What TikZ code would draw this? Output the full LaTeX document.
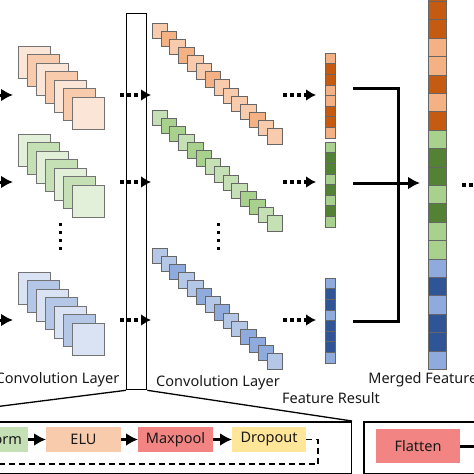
\documentclass[tikz,border=0pt]{standalone}
\usepackage{fontspec}
\setmainfont{Noto Sans}
\usetikzlibrary{positioning,arrows.meta}

\definecolor{orgA}{HTML}{FBE5D6}
\definecolor{orgB}{HTML}{F8CBAD}
\definecolor{orgC}{HTML}{F4B183}
\definecolor{orgD}{HTML}{C55A11}
\definecolor{grnA}{HTML}{E2F0D9}
\definecolor{grnB}{HTML}{C5E0B4}
\definecolor{grnC}{HTML}{A9D18E}
\definecolor{grnD}{HTML}{548235}
\definecolor{bluA}{HTML}{DAE3F3}
\definecolor{bluB}{HTML}{B4C7E7}
\definecolor{bluC}{HTML}{8FAADC}
\definecolor{bluD}{HTML}{2F5597}
\definecolor{poolred}{HTML}{F28583}
\definecolor{dropyel}{HTML}{FFE699}

\tikzset{
	bigsq/.style={draw=black!55, line width=0.6pt, minimum size=32, inner sep=0pt, outer sep=0pt, anchor=north west},
	smallsq/.style={draw=black!60, line width=0.6pt, minimum size=15.5, inner sep=0pt, outer sep=0pt, anchor=north west},
	cell/.style={draw=black!60, line width=0.5pt, inner sep=0pt, outer sep=0pt, anchor=north west},
	layer/.style={minimum height=25, inner sep=0pt, outer sep=0pt, font=\fontsize{14.5}{16}\selectfont, text=black!90},
	lbl/.style={font=\fontsize{14.5}{16}\selectfont, text=black!90, inner sep=0pt},
	dotarrow/.style={line width=3.5pt, dash pattern=on 4pt off 3pt, -{Latex[length=10pt,width=12pt]}},
	solidarrow/.style={line width=3pt, -{Latex[length=12pt,width=13pt]}},
}

\begin{document}
\begin{tikzpicture}[thick, x=1pt, y=-1pt]
	\useasboundingbox (0,0) rectangle (474,474);
	\clip (0,0) rectangle (474,474);
	\def\sx{8.85}
	\def\sy{8.1}
	
	% input arrows
	\coordinate (inO) at (-10,95);
	\coordinate (inG) at (-10,182);
	\coordinate (inB) at (-10,320);
	\coordinate (tO) at (13,95);
	\coordinate (tG) at (13,182);
	\coordinate (tB) at (13,320);
	\draw[solidarrow] (inO) -- (tO);
	\draw[solidarrow] (inG) -- (tG);
	\draw[solidarrow] (inB) -- (tB);
	
	% first convolution stacks
	\foreach \i/\c in {0/orgA,1/orgB,2/orgA,3/orgB,4/orgA,5/orgB,6/orgA}
		\node[bigsq, fill=\c] (bo\i) at ({18+9*\i},{46+8.5*\i}) {};
	\foreach \i/\c in {0/grnA,1/grnB,2/grnA,3/grnB,4/grnA,5/grnB,6/grnA}
		\node[bigsq, fill=\c] (bg\i) at ({18+9*\i},{134+8.5*\i}) {};
	\foreach \i/\c in {0/bluA,1/bluB,2/bluA,3/bluB,4/bluA,5/bluB,6/bluA}
		\node[bigsq, fill=\c] (bb\i) at ({18+9*\i},{272+8.5*\i}) {};
	\draw[line width=3pt, dash pattern=on 3pt off 5pt] (60,223) -- (60,252);
	\node[lbl] (convA) at (57.5,380) {Convolution Layer};
	
	% tall layer block
	\node[draw, line width=1.3pt, minimum width=20, minimum height=376, inner sep=0pt, anchor=north west] (blk) at (126,13) {};
	
	\coordinate (dO) at (120,95);
	\coordinate (dG) at (120,182);
	\coordinate (dB) at (120,320);
	\coordinate (eO) at (151,95);
	\coordinate (eG) at (151,182);
	\coordinate (eB) at (151,320);
	\draw[dotarrow] (dO) -- (eO);
	\draw[dotarrow] (dG) -- (eG);
	\draw[dotarrow] (dB) -- (eB);
	
	% second convolution chains
	\foreach \i/\c in {1/orgB,2/orgC,3/orgB,4/orgC,5/orgB,6/orgB,7/orgC,8/orgB,9/orgB,10/orgB,11/orgB,12/orgC,13/orgB,14/orgB}
		\node[smallsq, fill=\c] (mo\i) at ({152+\sx*(\i-1)},{23+\sy*(\i-1)}) {};
	\foreach \i/\c in {1/grnB,2/grnC,3/grnC,4/grnB,5/grnC,6/grnC,7/grnB,8/grnB,9/grnB,10/grnB,11/grnC,12/grnC,13/grnB,14/grnB}
		\node[smallsq, fill=\c] (mg\i) at ({152+\sx*(\i-1)},{110+\sy*(\i-1)}) {};
	\foreach \i/\c in {1/bluB,2/bluB,3/bluC,4/bluB,5/bluB,6/bluC,7/bluB,8/bluC,9/bluB,10/bluB,11/bluC,12/bluC,13/bluC,14/bluB}
		\node[smallsq, fill=\c] (mb\i) at ({152+\sx*(\i-1)},{248+\sy*(\i-1)}) {};
	\draw[line width=3pt, dash pattern=on 3pt off 5pt] (218,223) -- (218,252);
	\node[lbl] (convB) at (218,383) {Convolution Layer};
	
	\coordinate (fO) at (283,95);
	\coordinate (fG) at (283,182);
	\coordinate (fB) at (283,320);
	\coordinate (gO) at (316,95);
	\coordinate (gG) at (316,182);
	\coordinate (gB) at (316,320);
	\draw[dotarrow] (fO) -- (gO);
	\draw[dotarrow] (fG) -- (gG);
	\draw[dotarrow] (fB) -- (gB);
	
	% feature results
	\foreach \i/\c in {1/orgC,2/orgD,3/orgD,4/orgC,5/orgC,6/orgD,7/orgD,8/orgC}
		\node[cell, fill=\c, minimum width=10.5, minimum height=10.6] (fo\i) at (325,{53+10.6*(\i-1)}) {};
	\foreach \i/\c in {1/grnC,2/grnD,3/grnD,4/grnC,5/grnD,6/grnC,7/grnD,8/grnC}
		\node[cell, fill=\c, minimum width=10.5, minimum height=10.6] (fg\i) at (325,{142+10.6*(\i-1)}) {};
	\foreach \i/\c in {1/bluC,2/bluD,3/bluD,4/bluC,5/bluD,6/bluD,7/bluD,8/bluC}
		\node[cell, fill=\c, minimum width=10.5, minimum height=10.6] (fb\i) at (325,{278+10.6*(\i-1)}) {};
	\node[lbl] (feat) at (331,398) {Feature Result};
	
	% merge
	\coordinate (jO) at (353,88);
	\coordinate (jG) at (353,183);
	\coordinate (jB) at (353,321);
	\coordinate (kO) at (398,88);
	\coordinate (kG) at (398,183);
	\coordinate (kB) at (398,321);
	\draw[line width=3pt] (jO) -- (kO) -- (kB) -- (jB);
	\coordinate (mIn) at (420,183);
	\draw[solidarrow] (jG) -- (mIn);
	
	\foreach \i/\c in {0/orgD,1/orgD,2/orgD,3/orgC,4/orgC,5/orgD,6/orgC,7/orgD,8/grnC,9/grnD,10/grnD,11/grnC,12/grnD,13/grnC,14/grnC,15/bluC,16/bluD,17/bluC,18/bluD,19/bluD,20/bluC}
		\node[cell, fill=\c, minimum width=18, minimum height=18.4] (mf\i) at (428,{-17.2+18.4*\i}) {};
	\node[lbl, anchor=west] (merged) at (368,380) {Merged Feature};
	
	\coordinate (rO) at (462,185);
	\coordinate (rE) at (500,185);
	\draw[dotarrow] (rO) -- (rE);
	
	% detail of the layer block
	\node[draw, line width=1.5pt, minimum width=400, minimum height=52, inner sep=0pt, anchor=north east] (pnlA) at (352,421) {};
	\node[draw, line width=1.5pt, minimum width=150, minimum height=52, inner sep=0pt, anchor=north west] (pnlB) at (363,421) {};
	\coordinate (flL) at (-10,407.5);
	\draw[line width=1.3pt] (blk.south west) -- (flL);
	\draw[line width=1.3pt] (blk.south east) -- (pnlA.north east);
	
	\node[layer, fill=grnB, minimum width=90, anchor=east] (bnorm) at (28,439.5) {BatchNorm};
	\node[layer, fill=orgB, minimum width=75] (elu) at (83.5,439.5) {ELU};
	\node[layer, fill=poolred, minimum width=75] (pool) at (175.5,439.5) {Maxpool};
	\node[layer, fill=dropyel, minimum width=74] (drop) at (269,439.5) {Dropout};
	\draw[solidarrow] (bnorm) -- (elu);
	\draw[solidarrow] (elu) -- (pool);
	\draw[solidarrow] (pool) -- (drop);
	\coordinate (lpA) at (318,439.5);
	\coordinate (lpB) at (318,464);
	\coordinate (lpC) at (-10,464);
	\draw[line width=1.3pt, dash pattern=on 6pt off 4pt] (drop) -- (lpA) -- (lpB) -- (lpC);
	
	\node[layer, fill=poolred, minimum width=84, minimum height=34] (flat) at (418,446) {Flatten};
	\coordinate (flR) at (490,446);
	\draw[solidarrow] (flat) -- (flR);
\end{tikzpicture}
\end{document}
